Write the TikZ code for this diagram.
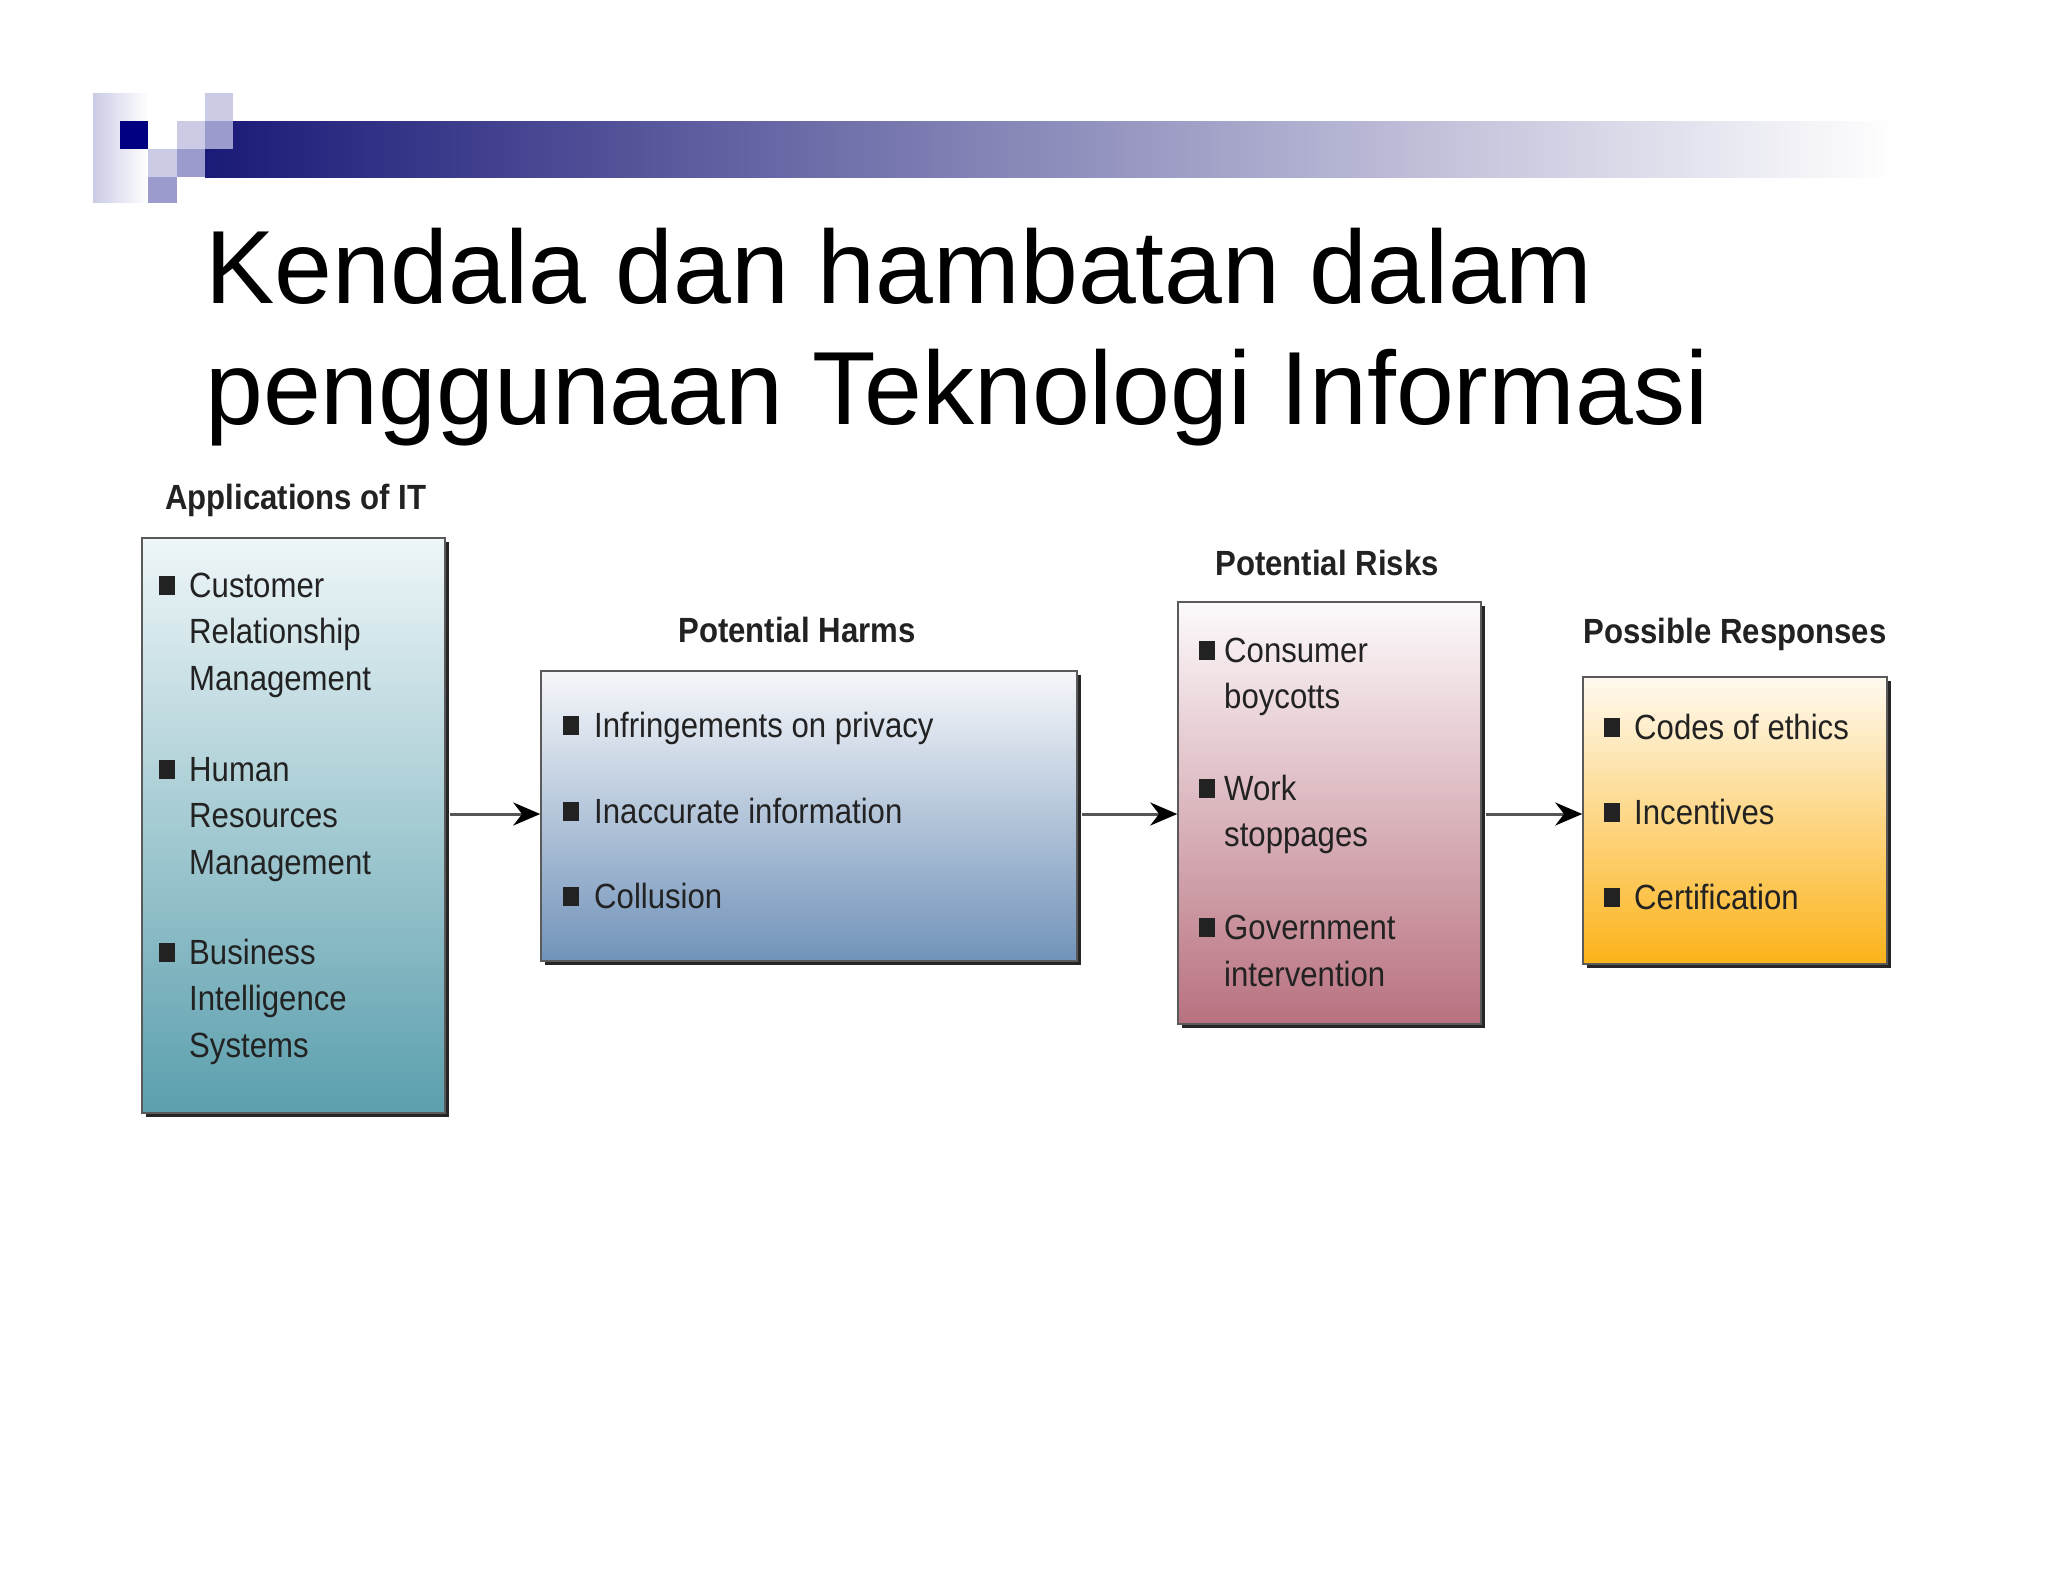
\documentclass[tikz,border=0pt]{standalone}
\usepackage{fontspec}
\setmainfont{Liberation Sans}
\newfontfamily\itemfont[FakeStretch=0.89]{Liberation Sans}
\newfontfamily\headfont[FakeStretch=0.89]{Liberation Sans}
\usetikzlibrary{shadows,arrows.meta}
\definecolor{txt}{HTML}{222222}
\definecolor{boxline}{HTML}{5A5A5A}
\definecolor{shadowc}{HTML}{262626}
\definecolor{arrc}{HTML}{555555}
\definecolor{bAtop}{HTML}{EEF6F8}
\definecolor{bAbot}{HTML}{5B9FAD}
\definecolor{bBtop}{HTML}{F6F7FA}
\definecolor{bBbot}{HTML}{7193BA}
\definecolor{bCtop}{HTML}{FDFAFB}
\definecolor{bCbot}{HTML}{B8717F}
\definecolor{bDtop}{HTML}{FEFAF0}
\definecolor{bDbot}{HTML}{FCB31A}
\definecolor{navybar}{HTML}{1A1A78}
\definecolor{navysq}{HTML}{000080}
\definecolor{lavlight}{HTML}{CBCBE6}
\definecolor{lavmed}{HTML}{9B9BCD}
\begin{document}
\begin{tikzpicture}[x=1pt,y=-1pt,
  box/.style={draw=boxline, line width=1.5pt, inner sep=0pt,
    drop shadow={shadow xshift=4pt, shadow yshift=-4pt, fill=shadowc, opacity=1}},
  itm/.style={anchor=base west, inner sep=0pt, font=\itemfont\fontsize{35}{42}\selectfont, text=txt},
  hdr/.style={anchor=base, inner sep=0pt, font=\headfont\bfseries\fontsize{35}{42}\selectfont, text=txt},
  bul/.style={fill=txt, minimum width=16pt, minimum height=19pt, inner sep=0pt, anchor=south west},
  arr/.style={draw=arrc, line width=3pt, -{Stealth[length=27pt,width=23pt,color=black]}, shorten <=4pt},
  ttl/.style={anchor=base west, inner sep=0pt, font=\fontsize{104}{121}\selectfont, text=black}]
\useasboundingbox (0,0) rectangle (2048,1582);
\fill[white] (0,0) rectangle (2048,1582);
% logo
\shade[left color=lavlight, right color=white] (93,93) rectangle (148,202);
\shade[left color=navybar, right color=white] (205,121) rectangle (1894,177);
\fill[navysq] (120,121) rectangle (148,149);
\fill[lavlight] (148,149) rectangle (177,177);
\fill[lavmed] (148,177) rectangle (177,203);
\fill[lavlight] (177,121) rectangle (205,149);
\fill[lavmed] (177,149) rectangle (205,177);
\fill[lavlight] (205,93) rectangle (233,121);
\fill[lavmed] (205,121) rectangle (233,149);
% title
\node[ttl] (t1) at (205,303) {Kendala dan hambatan dalam};
\node[ttl] (t2) at (205,424) {penggunaan Teknologi Informasi};
% headers
\node[hdr, anchor=base west] (hA) at (165,509) {Applications of IT};
\node[hdr] (hB) at (797,642) {Potential Harms};
\node[hdr] (hC) at (1327,575) {Potential Risks};
\node[hdr] (hD) at (1735,643) {Possible Responses};
% boxes
\node[box, top color=bAtop, bottom color=bAbot, minimum width=303pt, minimum height=575pt] (apps) at (293.5,825.5) {};
\node[box, top color=bBtop, bottom color=bBbot, minimum width=536pt, minimum height=290pt] (harms) at (809,816) {};
\node[box, top color=bCtop, bottom color=bCbot, minimum width=303pt, minimum height=422pt] (risks) at (1329.5,813) {};
\node[box, top color=bDtop, bottom color=bDbot, minimum width=304pt, minimum height=287pt] (resp) at (1735,820.5) {};
% box 1 items
\node[bul] (a1b) at (159,595) {};
\node[itm] (a1l1) at (189,597) {Customer};
\node[itm] (a1l2) at (189,643.5) {Relationship};
\node[itm] (a1l3) at (189,690) {Management};
\node[bul] (a2b) at (159,779) {};
\node[itm] (a2l1) at (189,781) {Human};
\node[itm] (a2l2) at (189,827.5) {Resources};
\node[itm] (a2l3) at (189,874) {Management};
\node[bul] (a3b) at (159,962) {};
\node[itm] (a3l1) at (189,964) {Business};
\node[itm] (a3l2) at (189,1010.5) {Intelligence};
\node[itm] (a3l3) at (189,1057) {Systems};
% box 2 items
\node[bul] (b1b) at (563,735) {};
\node[itm] (b1l1) at (594,737) {Infringements on privacy};
\node[bul] (b2b) at (563,821) {};
\node[itm] (b2l1) at (594,823) {Inaccurate information};
\node[bul] (b3b) at (563,906) {};
\node[itm] (b3l1) at (594,908) {Collusion};
% box 3 items
\node[bul] (c1b) at (1199,660) {};
\node[itm] (c1l1) at (1224,662) {Consumer};
\node[itm] (c1l2) at (1224,708) {boycotts};
\node[bul] (c2b) at (1199,798) {};
\node[itm] (c2l1) at (1224,800) {Work};
\node[itm] (c2l2) at (1224,846) {stoppages};
\node[bul] (c3b) at (1199,937) {};
\node[itm] (c3l1) at (1224,939) {Government};
\node[itm] (c3l2) at (1224,986) {intervention};
% box 4 items
\node[bul] (d1b) at (1604,737) {};
\node[itm] (d1l1) at (1634,739) {Codes of ethics};
\node[bul] (d2b) at (1604,822) {};
\node[itm] (d2l1) at (1634,824) {Incentives};
\node[bul] (d3b) at (1604,907) {};
\node[itm] (d3l1) at (1634,909) {Certification};
% arrows
\coordinate (ay) at (0,814);
\draw[arr] (apps.east |- ay) -- (harms.west |- ay);
\draw[arr] (harms.east |- ay) -- (risks.west |- ay);
\draw[arr] (risks.east |- ay) -- (resp.west |- ay);
\end{tikzpicture}
\end{document}
